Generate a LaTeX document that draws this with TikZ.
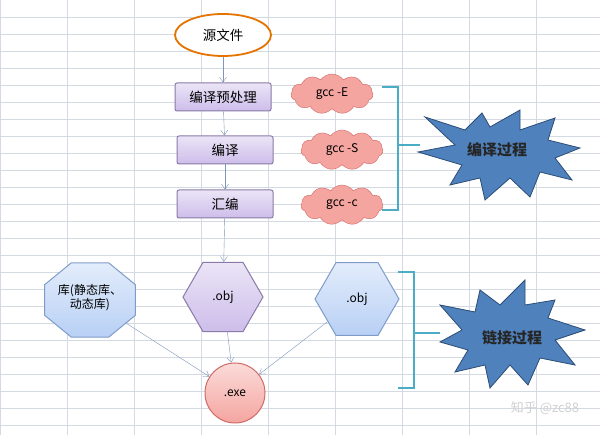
\documentclass[tikz,border=0pt]{standalone}
\usepackage{fontspec}
\setmainfont{Noto Sans CJK SC}
\usetikzlibrary{shapes.geometric,shapes.symbols,arrows.meta}
\definecolor{grid}{HTML}{D4DAE4}
\definecolor{lav}{HTML}{CDBDEA}
\definecolor{lavb}{HTML}{8A7AA8}
\definecolor{lblue}{HTML}{B8D0F5}
\definecolor{lblueb}{HTML}{7F9CC8}
\definecolor{pinkf}{HTML}{F5A5A0}
\definecolor{pinkb}{HTML}{D06A66}
\definecolor{teal}{HTML}{4BACC6}
\definecolor{starf}{HTML}{4F81BD}
\definecolor{starb}{HTML}{2C4D75}
\definecolor{arr}{HTML}{7F96B8}
\tikzset{
  fnt/.style={font=\fontsize{13.5}{16}\selectfont},
  fnts/.style={font=\fontsize{12}{14}\selectfont},
  stepbox/.style={fnt,draw=lavb,line width=1pt,rounded corners=2pt,top color=lav!40,bottom color=lav,minimum width=96pt,minimum height=28pt},
  cloudn/.style={fnts,cloud,cloud puffs=11,cloud puff arc=110,aspect=2.2,draw=pinkb,fill=pinkf,minimum width=82pt,minimum height=40pt,inner sep=0pt},
  conn/.style={draw=arr,-{Straight Barb[length=5pt,width=7pt]}},
  brk/.style={draw=teal,line width=2.5pt},
  lbl/.style={font=\bfseries\fontsize{15}{17}\selectfont,text=black!85}
}
\begin{document}
\begin{tikzpicture}[x=1pt,y=-1pt]
\useasboundingbox (0,0) rectangle (600,435);
\fill[white] (0,0) rectangle (600,435);
\foreach \x in {0,67,...,600} \draw[grid,line width=0.6pt] (\x,0) -- (\x,435);
\foreach \y in {17,34,...,435} \draw[grid,line width=0.6pt] (0,\y) -- (600,\y);
% top chain
\node[fnt,ellipse,draw=orange!90!black,line width=1.8pt,fill=white,minimum width=96pt,minimum height=42pt] (src) at (223,35) {源文件};
\node[stepbox] (pre) at (223,97) {编译预处理};
\node[stepbox] (cmp) at (225,150) {编译};
\node[stepbox] (asm) at (225,204) {汇编};
\node[cloudn] (ce) at (332,94) {gcc -E};
\node[cloudn] (cs) at (342,150) {gcc -S};
\node[cloudn] (cc) at (342,205) {gcc -c};
% bottom
\node[regular polygon,regular polygon sides=8,draw=lblueb,line width=1pt,top color=lblue!40,bottom color=lblue,minimum size=98pt,inner sep=0pt,yscale=0.82] (lib) at (90,300) {};
\node[fnts,align=center] (libt) at (90,298) {库(静态库、\\动态库)};
\node[fnts,regular polygon,regular polygon sides=6,draw=lavb,line width=1pt,top color=lav!40,bottom color=lav,minimum size=80pt,inner sep=0pt] (o1) at (223,297) {.obj};
\node[fnts,regular polygon,regular polygon sides=6,draw=lblueb,line width=1pt,top color=lblue!40,bottom color=lblue,minimum size=84pt,inner sep=0pt] (o2) at (357,299) {.obj};
\node[fnts,circle,draw=pinkb,line width=1pt,top color=pinkf!40,bottom color=pinkf,minimum size=60pt,inner sep=0pt] (exe) at (235,393) {.exe};
% arrows
\draw[conn] (src) -- (pre);
\draw[conn] (pre) -- (cmp);
\draw[conn] (cmp) -- (asm);
\draw[conn] (asm) -- (o1);
\draw[conn] (lib) -- (exe);
\draw[conn] (o1) -- (exe);
\draw[conn] (o2) -- (exe);
% brackets
\coordinate (b1a) at (382,87); \coordinate (b1b) at (382,210); \coordinate (b1m) at (420,145);
\draw[brk] (b1a) -- ++(16,0) |- (b1b);
\draw[brk] (398,145) -- (b1m);
\coordinate (b2a) at (398,272); \coordinate (b2b) at (398,388); \coordinate (b2m) at (440,333);
\draw[brk] (b2a) -- ++(16,0) |- (b2b);
\draw[brk] (414,333) -- (b2m);
% stars
\draw[starb,fill=starf,line width=0.8pt] (425,117) -- (465,130) -- (482,113) -- (490,127) -- (520,110) -- (520,130) -- (555,118) -- (548,140) -- (580,148) -- (555,158) -- (572,180) -- (540,172) -- (530,197) -- (510,178) -- (485,200) -- (480,178) -- (450,185) -- (462,165) -- (418,152) -- (455,145) -- cycle;
\node[lbl] (t1) at (497,150) {编译过程};
\draw[starb,fill=starf,line width=0.8pt] (440,305) -- (475,312) -- (480,290) -- (500,305) -- (525,280) -- (525,305) -- (555,300) -- (548,318) -- (585,330) -- (555,340) -- (575,365) -- (540,358) -- (528,385) -- (510,365) -- (490,388) -- (485,365) -- (455,372) -- (468,350) -- (440,342) -- (462,330) -- cycle;
\node[lbl] (t2) at (512,338) {链接过程};
\node[text=black!18,font=\fontsize{13}{15}\selectfont] (wm) at (545,408) {知乎 @zc88};
\end{tikzpicture}
\end{document}
